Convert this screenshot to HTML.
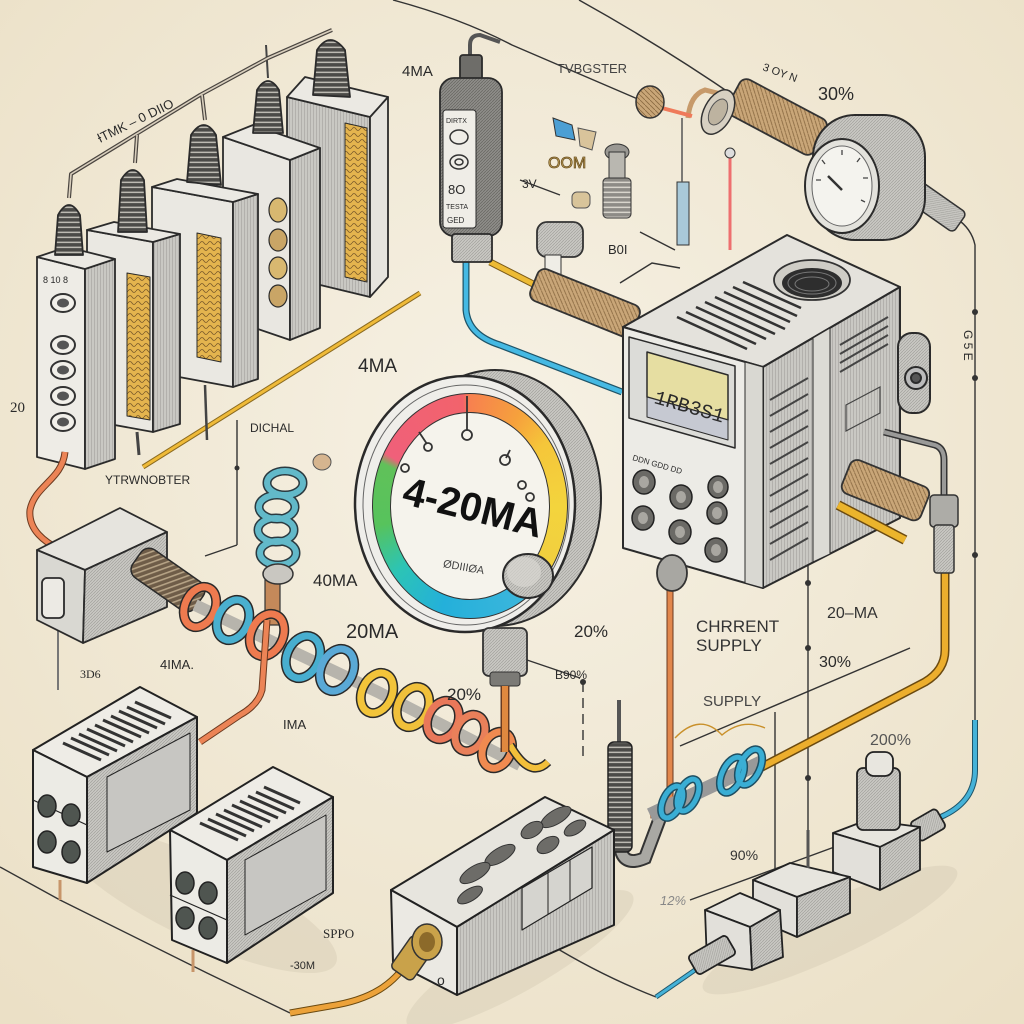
<!DOCTYPE html>
<html><head><meta charset="utf-8">
<style>
html,body{margin:0;padding:0;width:1024px;height:1024px;overflow:hidden;background:#f1e9d7;}
#wrap{position:relative;width:1024px;height:1024px;}
svg{position:absolute;left:0;top:0;}
text{font-family:"Liberation Sans",sans-serif;fill:#2a2a2a;}
.ring{position:absolute;left:372px;top:393px;width:196px;height:226px;border-radius:50%;box-sizing:border-box;border:1.5px solid #333;
background:conic-gradient(#f7814f 0deg,#f6a13c 28deg,#f5c63a 50deg,#f3d43d 90deg,#f2cf3e 128deg,#3bb6dc 150deg,#24b0da 195deg,#2cc4b5 228deg,#57c35c 258deg,#60c15a 296deg,#f0607a 302deg,#f2636c 356deg,#f7814f 360deg);}
.face{position:absolute;left:390px;top:412px;width:160px;height:188px;border-radius:50%;box-sizing:border-box;border:1.5px solid #333;background:#f5f3ec;}
</style></head><body><div id="wrap">
<svg width="1024" height="1024" viewBox="0 0 1024 1024">
<defs>
<radialGradient id="bg" cx="0.5" cy="0.42" r="0.75"><stop offset="0" stop-color="#f6f1e4"/><stop offset="1" stop-color="#ebe0c6"/></radialGradient>
<pattern id="h" patternUnits="userSpaceOnUse" width="3" height="3"><rect width="3" height="3" fill="#c8c7c2"/><path d="M0,3L3,0" stroke="#9c9b96" stroke-width=".6"/></pattern>
<pattern id="hd" patternUnits="userSpaceOnUse" width="3" height="3"><rect width="3" height="3" fill="#8e8d89"/><path d="M0,3L3,0" stroke="#666560" stroke-width=".7"/></pattern>
<pattern id="hv" patternUnits="userSpaceOnUse" width="3" height="3"><rect width="3" height="3" fill="#c9c8c3"/><path d="M1.5,0V3" stroke="#a2a19c" stroke-width=".6"/></pattern>
<pattern id="coil" patternUnits="userSpaceOnUse" width="6" height="5"><rect width="6" height="5" fill="#4b4a47"/><rect y="1.6" width="6" height="1.5" fill="#bdbab2"/></pattern>
<pattern id="coilL" patternUnits="userSpaceOnUse" width="6" height="5"><rect width="6" height="5" fill="#8d8b86"/><rect y="1.6" width="6" height="1.5" fill="#d8d5cc"/></pattern>
<pattern id="tan" patternUnits="userSpaceOnUse" width="5" height="5"><rect width="5" height="5" fill="#c9a678"/><path d="M0,0L5,5" stroke="#8a6a42" stroke-width=".8"/></pattern>
<pattern id="rib" patternUnits="userSpaceOnUse" width="5" height="5" patternTransform="rotate(35)"><rect width="5" height="5" fill="#6e5c48"/><rect x="2" width="1.6" height="5" fill="#b5a285"/></pattern>
<pattern id="ystr" patternUnits="userSpaceOnUse" width="8" height="6"><rect width="8" height="6" fill="#e4b44e"/><path d="M0,3Q2,0 4,3T8,3" stroke="#7a5a2a" stroke-width=".8" fill="none"/></pattern>
</defs>
<rect width="1024" height="1024" fill="url(#bg)"/>

<!-- soft floor shadows -->
<g fill="#d9cfb8" opacity=".5">
<ellipse cx="200" cy="900" rx="150" ry="40" transform="rotate(25 200 900)"/>
<ellipse cx="520" cy="960" rx="130" ry="30" transform="rotate(-30 520 960)"/>
<ellipse cx="830" cy="930" rx="140" ry="28" transform="rotate(-25 830 930)"/>
</g>

<!-- long thin lines -->
<g fill="none" stroke="#333" stroke-width="1.4">
<path d="M393,0 Q460,18 512,45 L640,100"/>
<path d="M579,0 Q660,45 740,100"/>
<path d="M915,205 Q968,212 975,245 L975,720"/>
<path d="M237,420 L237,545 M237,545 L205,556"/>
<path d="M680,746 L910,648"/>
<path d="M775,712 L775,870"/>
<path d="M808,528 L808,866"/>
<path d="M690,900 L848,842"/>
<path d="M527,660 L580,678"/>
<path d="M583,682 L583,760" stroke-dasharray="10 6"/>
<path d="M675,738 Q700,712 722,735 Q742,718 765,728" stroke="#c9902a"/>
<path d="M0,867 L60,900 L207,973 L290,1013"/>
<path d="M548,943 Q600,975 656,997"/>
<path d="M60,880 L60,900 M193,950 L193,972" stroke="#c7956a" stroke-width="3"/>
<path d="M58,627 L58,690" stroke="#777" stroke-width="2"/>
<path d="M264,240 L250,255 M620,283 L652,263 L680,268" />
<path d="M520,180 L560,195 M640,232 L675,250"/>
</g>
<g fill="#333"><circle cx="975" cy="312" r="3"/><circle cx="975" cy="378" r="3"/><circle cx="975" cy="555" r="3"/><circle cx="808" cy="583" r="3"/><circle cx="808" cy="648" r="3"/><circle cx="808" cy="778" r="3"/><circle cx="583" cy="682" r="3"/><circle cx="237" cy="468" r="2.5"/></g>

<!-- yellow diagonal -->
<path d="M143,467 L420,293" stroke="#8a6a20" stroke-width="5" fill="none"/>
<path d="M143,467 L420,293" stroke="#efba38" stroke-width="3" fill="none"/>

<!-- left blocks: 5 -->
<g stroke="#2b2b2b" stroke-width="1.8" stroke-linejoin="round">
<polygon points="287,97 370,117 370,297 287,277" fill="url(#hv)"/>
<polygon points="370,117 388,97 388,277 370,297" fill="#e6e4de"/>
<polygon points="287,97 370,117 388,97 305,77" fill="#ebe9e3"/>
<polygon points="345,123 367,128 367,282 345,277" fill="url(#ystr)" stroke-width="1"/>
<path d="M313,95 L317,50 Q330,30 345,50 L350,97 Z" fill="url(#coil)"/>
<!-- 4 -->
<polygon points="223,137 290,160 290,340 223,317" fill="#e9e7e1"/>
<polygon points="290,160 320,148 320,328 290,340" fill="url(#hv)"/>
<polygon points="223,137 290,160 320,148 253,125" fill="#ebe9e3"/>
<ellipse cx="278" cy="210" rx="9" ry="12" fill="#d8b870" stroke-width="1.2"/>
<ellipse cx="278" cy="240" rx="9" ry="11" fill="#c9a566" stroke-width="1.2"/>
<ellipse cx="278" cy="268" rx="9" ry="11" fill="#d8b870" stroke-width="1.2"/>
<ellipse cx="278" cy="296" rx="9" ry="11" fill="#c9a566" stroke-width="1.2"/>
<path d="M253,133 L257,90 Q268,72 279,90 L283,133 Z" fill="url(#coil)"/>
<path d="M268,78 L266,45" stroke="#444" stroke-width="2"/>
<!-- 3 -->
<polygon points="152,187 233,202 233,387 152,372" fill="#eae8e2"/>
<polygon points="233,202 258,194 258,379 233,387" fill="url(#hv)"/>
<polygon points="152,187 233,202 258,194 177,179" fill="#ebe9e3"/>
<polygon points="197,233 221,238 221,362 197,357" fill="url(#ystr)" stroke-width="1"/>
<path d="M187,182 L191,135 Q204,115 216,135 L221,185 Z" fill="url(#coil)"/>
<path d="M205,385 L207,440" stroke="#444" stroke-width="2.5"/>
<!-- 2 -->
<polygon points="87,230 153,242 153,432 87,420" fill="#eae8e2"/>
<polygon points="153,242 180,234 180,424 153,432" fill="url(#hv)"/>
<polygon points="87,230 153,242 180,234 114,222" fill="#ebe9e3"/>
<polygon points="127,273 150,277 150,420 127,416" fill="url(#ystr)" stroke-width="1"/>
<path d="M118,232 L121,180 Q133,160 144,180 L147,232 Z" fill="url(#coil)"/>
<path d="M137,432 L139,455" stroke="#444" stroke-width="3"/>
<!-- 1 -->
<polygon points="37,257 85,269 85,469 37,457" fill="#eeece6"/>
<polygon points="85,269 115,259 115,459 85,469" fill="url(#hv)"/>
<polygon points="37,257 85,269 115,259 67,247" fill="#ebe9e3"/>
<path d="M55,255 L58,215 Q69,195 80,215 L83,255 Z" fill="url(#coil)"/>
</g>
<g fill="#f2f0ea" stroke="#333" stroke-width="2">
<ellipse cx="63" cy="303" rx="12" ry="9"/><ellipse cx="63" cy="345" rx="12" ry="9"/><ellipse cx="63" cy="370" rx="12" ry="9"/><ellipse cx="63" cy="396" rx="12" ry="9"/><ellipse cx="63" cy="422" rx="12" ry="9"/>
</g>
<g fill="#555"><ellipse cx="63" cy="303" rx="6" ry="4.5"/><ellipse cx="63" cy="345" rx="6" ry="4.5"/><ellipse cx="63" cy="370" rx="6" ry="4.5"/><ellipse cx="63" cy="396" rx="6" ry="4.5"/><ellipse cx="63" cy="422" rx="6" ry="4.5"/></g>
<text x="43" y="283" font-size="9">8 10 8</text>
<!-- wires on coil tops -->
<g fill="none" stroke-linejoin="round">
<path d="M69,198 L71,174 L200,95 L268,58 L332,30 M135,163 L137,135 M205,120 L202,95" stroke="#4a4540" stroke-width="4"/>
<path d="M69,198 L71,174 L200,95 L268,58 L332,30 M135,163 L137,135 M205,120 L202,95" stroke="#d9cfbd" stroke-width="1.6"/>
</g>

<!-- orange left cable -->
<path d="M65,452 C62,480 35,485 30,510 C28,530 45,542 60,550" stroke="#6b3a20" stroke-width="7" fill="none"/>
<path d="M65,452 C62,480 35,485 30,510 C28,530 45,542 60,550" stroke="#ec8456" stroke-width="5" fill="none"/>

<!-- box C -->
<g stroke="#2b2b2b" stroke-width="1.8" stroke-linejoin="round">
<polygon points="37,550 120,508 167,532 85,570" fill="#e6e4de"/>
<polygon points="37,550 85,570 83,643 37,620" fill="#d9d8d2"/>
<polygon points="85,570 167,532 167,607 83,643" fill="url(#h)"/>
<rect x="42" y="578" width="22" height="40" rx="5" fill="#eceae4"/>
</g>
<rect x="-38" y="-17" width="76" height="34" rx="10" transform="translate(168,580) rotate(35)" fill="url(#rib)" stroke="#2b2b2b" stroke-width="1.5"/>

<!-- gray tube chain core -->
<path d="M195,605 L300,655 L380,693 L520,765" stroke="#b7b4ac" stroke-width="12" fill="none"/>
<!-- vertical chain stem -->
<rect x="265" y="580" width="15" height="45" fill="#c4895a" stroke="#333" stroke-width="1.2"/>
<g fill="none">
<g stroke="#2b3a40" stroke-width="9">
<ellipse cx="285" cy="483" rx="18" ry="12"/><ellipse cx="277" cy="507" rx="18" ry="12"/><ellipse cx="276" cy="530" rx="18" ry="12"/><ellipse cx="278" cy="553" rx="18" ry="12"/>
</g>
<g stroke="#62b9c9" stroke-width="6">
<ellipse cx="285" cy="483" rx="18" ry="12"/><ellipse cx="277" cy="507" rx="18" ry="12"/><ellipse cx="276" cy="530" rx="18" ry="12"/><ellipse cx="278" cy="553" rx="18" ry="12"/>
</g>
</g>
<ellipse cx="278" cy="574" rx="15" ry="10" fill="#c9c7c1" stroke="#333" stroke-width="1.5"/>
<ellipse cx="322" cy="462" rx="9" ry="8" fill="#d6b58f" stroke="#555"/>

<!-- horizontal coil chain -->
<g fill="none">
<g stroke="#2a2a2a" stroke-width="10">
<ellipse cx="200" cy="607" rx="15" ry="21" transform="rotate(25 200 607)"/>
<ellipse cx="233" cy="620" rx="15" ry="21" transform="rotate(25 233 620)"/>
<ellipse cx="267" cy="635" rx="16" ry="22" transform="rotate(25 267 635)"/>
<ellipse cx="303" cy="657" rx="16" ry="22" transform="rotate(25 303 657)"/>
<ellipse cx="337" cy="670" rx="16" ry="22" transform="rotate(25 337 670)"/>
<ellipse cx="377" cy="693" rx="15" ry="21" transform="rotate(25 377 693)"/>
<ellipse cx="413" cy="707" rx="15" ry="21" transform="rotate(25 413 707)"/>
<ellipse cx="443" cy="720" rx="15" ry="20" transform="rotate(25 443 720)"/>
<ellipse cx="470" cy="733" rx="14" ry="19" transform="rotate(25 470 733)"/>
<ellipse cx="497" cy="750" rx="14" ry="19" transform="rotate(25 497 750)"/>
</g>
<ellipse cx="200" cy="607" rx="15" ry="21" transform="rotate(25 200 607)" stroke="#ee7a4f" stroke-width="7"/>
<ellipse cx="233" cy="620" rx="15" ry="21" transform="rotate(25 233 620)" stroke="#4ab0cf" stroke-width="7"/>
<ellipse cx="267" cy="635" rx="16" ry="22" transform="rotate(25 267 635)" stroke="#ee7a4f" stroke-width="7"/>
<ellipse cx="303" cy="657" rx="16" ry="22" transform="rotate(25 303 657)" stroke="#48aecf" stroke-width="7"/>
<ellipse cx="337" cy="670" rx="16" ry="22" transform="rotate(25 337 670)" stroke="#5aa9d6" stroke-width="7"/>
<ellipse cx="377" cy="693" rx="15" ry="21" transform="rotate(25 377 693)" stroke="#f2c43a" stroke-width="7"/>
<ellipse cx="413" cy="707" rx="15" ry="21" transform="rotate(25 413 707)" stroke="#f0c03a" stroke-width="7"/>
<ellipse cx="443" cy="720" rx="15" ry="20" transform="rotate(25 443 720)" stroke="#e9785a" stroke-width="7"/>
<ellipse cx="470" cy="733" rx="14" ry="19" transform="rotate(25 470 733)" stroke="#e9805a" stroke-width="7"/>
<ellipse cx="497" cy="750" rx="14" ry="19" transform="rotate(25 497 750)" stroke="#f08a50" stroke-width="7"/>
<path d="M510,745 Q530,780 548,762" stroke="#2a2a2a" stroke-width="9"/>
<path d="M510,745 Q530,780 548,762" stroke="#f2bf3a" stroke-width="6"/>
</g>

<!-- orange cable from chain down to box A -->
<path d="M267,620 L262,690 Q258,705 240,715 L200,742" stroke="#6b3a20" stroke-width="7" fill="none"/>
<path d="M267,620 L262,690 Q258,705 240,715 L200,742" stroke="#ec8456" stroke-width="5" fill="none"/>

<!-- box A -->
<g stroke="#222" stroke-width="2" stroke-linejoin="round">
<polygon points="33,750 140,687 197,717 87,777" fill="#eeece6"/>
<polygon points="33,750 87,777 87,883 33,867" fill="#ecebe5"/>
<polygon points="87,777 197,717 197,813 87,883" fill="url(#h)"/>
<polygon points="107,777 190,733 190,810 107,852" fill="#c7c6c2" stroke-width="1"/>
<path d="M33,800 L87,825" stroke-width="1.2"/>
</g>
<g stroke="#333" stroke-width="3">
<path d="M63,743 l38,17 M71,738 l38,17 M79,734 l38,17 M87,729 l38,17 M95,725 l38,17 M103,720 l38,17 M111,716 l38,17 M119,711 l38,17 M127,707 l38,17 M135,702 l36,16"/>
</g>
<g fill="#4f5550" stroke="#222" stroke-width="1.5">
<ellipse cx="47" cy="806" rx="9" ry="11"/><ellipse cx="71" cy="815" rx="9" ry="11"/><ellipse cx="47" cy="842" rx="9" ry="11"/><ellipse cx="71" cy="852" rx="9" ry="11"/>
</g>
<!-- box B -->
<g stroke="#222" stroke-width="2" stroke-linejoin="round">
<polygon points="170,830 273,767 333,797 227,860" fill="#eeece6"/>
<polygon points="170,830 227,860 227,963 172,940" fill="#ecebe5"/>
<polygon points="227,860 333,797 333,893 227,963" fill="url(#h)"/>
<polygon points="245,860 326,815 326,890 245,935" fill="#c7c6c2" stroke-width="1"/>
<path d="M170,895 L227,920" stroke-width="1.2"/>
</g>
<g stroke="#333" stroke-width="3">
<path d="M200,823 l38,17 M208,819 l38,17 M216,814 l38,17 M224,810 l38,17 M232,805 l38,17 M240,801 l38,17 M248,796 l38,17 M256,792 l38,17 M264,787 l36,16"/>
</g>
<g fill="#4f5550" stroke="#222" stroke-width="1.5">
<ellipse cx="185" cy="883" rx="9" ry="11"/><ellipse cx="208" cy="893" rx="9" ry="11"/><ellipse cx="185" cy="918" rx="9" ry="11"/><ellipse cx="208" cy="928" rx="9" ry="11"/>
</g>

<!-- sensor cables -->
<path d="M466,262 L466,310 Q468,335 500,345 L622,392" stroke="#1f5468" stroke-width="7" fill="none"/>
<path d="M466,262 L466,310 Q468,335 500,345 L622,392" stroke="#45b9e3" stroke-width="4.5" fill="none"/>
<path d="M490,262 L545,290" stroke="#7a5a18" stroke-width="7" fill="none"/>
<path d="M490,262 L545,290" stroke="#edbb35" stroke-width="5" fill="none"/>
<!-- sensor -->
<path d="M470,60 L470,45 Q470,35 480,35 L500,42" stroke="#555" stroke-width="4" fill="none"/>
<g stroke="#2b2b2b" stroke-width="1.8">
<rect x="460" y="55" width="22" height="28" rx="3" fill="#6e6d69"/>
<rect x="440" y="78" width="62" height="158" rx="14" fill="url(#hd)"/>
<rect x="443" y="110" width="33" height="118" rx="3" fill="#efede7" stroke-width="1"/>
<rect x="452" y="234" width="40" height="28" rx="3" fill="url(#h)"/>
</g>
<g fill="none" stroke="#333" stroke-width="1.5"><ellipse cx="459" cy="137" rx="9" ry="7"/><ellipse cx="459" cy="162" rx="9" ry="7"/><ellipse cx="459" cy="162" rx="4" ry="3"/></g>
<text x="448" y="194" font-size="13">8O</text>
<text x="446" y="209" font-size="7">TESTA</text>
<text x="447" y="223" font-size="8">GED</text>
<text x="446" y="123" font-size="7">DIRTX</text>

<!-- top middle small parts -->
<polygon points="553,118 572,125 575,140 556,136" fill="#4c9fd4" stroke="#333"/>
<polygon points="578,128 596,132 592,150 580,146" fill="#d9c49b" stroke="#555"/>
<ellipse cx="617" cy="152" rx="12" ry="8" fill="#9a9893" stroke="#333"/>
<rect x="609" y="152" width="16" height="28" fill="#b9b7b0" stroke="#333"/>
<rect x="603" y="178" width="28" height="40" rx="4" fill="url(#coilL)" stroke="#333"/>
<rect x="572" y="192" width="18" height="16" rx="5" fill="#d8c49a" stroke="#555"/>
<rect x="677" y="182" width="12" height="63" fill="#a9c9d9" stroke="#333"/>
<path d="M730,158 L730,250" stroke="#ee6f6f" stroke-width="3"/>
<circle cx="730" cy="153" r="5" fill="#ddd" stroke="#333"/>
<path d="M682,118 L682,182" stroke="#555" stroke-width="1.5"/>
<rect x="537" y="222" width="46" height="35" rx="10" fill="url(#h)" stroke="#333" stroke-width="1.8"/>
<rect x="545" y="255" width="16" height="35" fill="#efede6" stroke="#333"/>
<rect x="-55" y="-17" width="110" height="34" rx="8" transform="translate(585,303) rotate(22)" fill="url(#tan)" stroke="#333" stroke-width="1.8"/>

<!-- right-top gauge & connectors -->
<path d="M688,118 Q690,95 705,90 L725,95" stroke="#c79a6a" stroke-width="5" fill="none"/>
<path d="M662,108 L692,116" stroke="#ef7a5a" stroke-width="4"/>
<ellipse cx="650" cy="102" rx="14" ry="16" fill="url(#tan)" stroke="#333" stroke-width="1.5"/>
<rect x="-49" y="-20" width="98" height="40" rx="8" transform="translate(777,117) rotate(28)" fill="url(#tan)" stroke="#333" stroke-width="1.8"/>
<ellipse cx="718" cy="112" rx="14" ry="24" transform="rotate(28 718 112)" fill="#d7d0c2" stroke="#333" stroke-width="1.5"/>
<ellipse cx="718" cy="112" rx="8" ry="14" transform="rotate(28 718 112)" fill="#bdb3a0" stroke="#555"/>
<rect x="-28" y="-12" width="56" height="24" rx="5" transform="translate(937,207) rotate(35)" fill="url(#h)" stroke="#333" stroke-width="1.5"/>
<rect x="813" y="115" width="112" height="125" rx="42" fill="url(#h)" stroke="#2b2b2b" stroke-width="2"/>
<ellipse cx="842" cy="186" rx="37" ry="47" fill="#e3e2dc" stroke="#2b2b2b" stroke-width="2"/>
<ellipse cx="842" cy="186" rx="30" ry="40" fill="#f4f3ee" stroke="#666"/>
<path d="M842,190 L828,176" stroke="#333" stroke-width="2.5"/>
<g stroke="#444" stroke-width="1.3"><path d="M842,150 v5 M860,158 l-3,4 M868,178 h-5 M865,202 l-4,-2 M822,160 l3,4 M816,180 h5"/></g>

<!-- main device -->
<g stroke="#2b2b2b" stroke-width="2" stroke-linejoin="round">
<polygon points="623,327 787,235 900,287 763,367" fill="#e4e2dc"/>
<polygon points="763,367 900,287 900,518 763,588" fill="url(#hv)"/>
<polygon points="623,327 763,367 763,588 623,548" fill="#ecebe6"/>
<polygon points="745,362 763,367 763,588 745,583" fill="#d9d8d2" stroke-width="1"/>
<polygon points="813,338 830,328 830,554 813,562" fill="#dcdbd5" stroke-width="1"/>
<polygon points="629,337 735,366 735,448 629,418" fill="#dcdcd8" stroke-width="1.5"/>
<polygon points="647,352 728,375 728,420 647,397" fill="#e6dea2" stroke-width="1.5"/>
<polygon points="647,397 728,420 728,440 647,417" fill="#c6c9d2" stroke-width="1"/>
<rect x="898" y="333" width="32" height="80" rx="14" fill="url(#h)"/>
<circle cx="916" cy="378" r="11" fill="#bbb"/>
<circle cx="916" cy="378" r="5" fill="#555"/>
</g>
<ellipse cx="812" cy="280" rx="38" ry="20" fill="#cfcdc6" stroke="#333" stroke-width="1.8"/>
<ellipse cx="812" cy="283" rx="30" ry="15" fill="#2e2e2e"/>
<g fill="none" stroke="#777" stroke-width="1"><ellipse cx="812" cy="283" rx="24" ry="11"/><ellipse cx="812" cy="284" rx="17" ry="7"/></g>
<g stroke="#333" stroke-width="2.6">
<path d="M677,317 l70,32 M686,312 l70,32 M696,307 l70,32 M705,302 l70,32 M715,297 l70,32 M724,292 l66,30 M733,287 l64,29 M743,282 l58,26"/>
</g>
<g stroke="#444" stroke-width="2">
<path d="M770,400 l38,-22 M770,416 l38,-22 M770,432 l38,-22 M770,448 l38,-22 M770,464 l38,-22 M770,480 l38,-22 M770,496 l38,-22 M770,512 l38,-22 M770,528 l38,-22 M770,544 l38,-22 M770,560 l38,-22"/>
<path d="M840,345 l48,-28 M840,354 l48,-28 M840,363 l48,-28 M840,372 l48,-28"/>
</g>
<polygon points="846,405 880,387 880,413 846,431" fill="none" stroke="#444" stroke-width="1.2"/>
<text x="658" y="412" font-size="20" transform="rotate(16 688 390)" style="font-family:'Liberation Mono',monospace">1RB3S1</text>
<text x="632" y="460" font-size="8" transform="rotate(16 632 460)">DDN   GDD   DD</text>
<g fill="#6b6a66" stroke="#222" stroke-width="1.5">
<ellipse cx="644" cy="482" rx="11" ry="12"/><ellipse cx="681" cy="497" rx="11" ry="12"/><ellipse cx="718" cy="487" rx="10" ry="11"/>
<ellipse cx="643" cy="518" rx="11" ry="12"/><ellipse cx="680" cy="532" rx="11" ry="12"/><ellipse cx="717" cy="513" rx="10" ry="11"/><ellipse cx="716" cy="550" rx="11" ry="12"/>
</g>
<g fill="#a9a7a1"><ellipse cx="644" cy="482" rx="5" ry="6"/><ellipse cx="681" cy="497" rx="5" ry="6"/><ellipse cx="718" cy="487" rx="5" ry="6"/><ellipse cx="643" cy="518" rx="5" ry="6"/><ellipse cx="680" cy="532" rx="5" ry="6"/><ellipse cx="717" cy="513" rx="5" ry="6"/><ellipse cx="716" cy="550" rx="5" ry="6"/></g>

<!-- right side connectors -->
<path d="M884,432 L935,445 Q944,448 944,460 L944,498" stroke="#333" stroke-width="7" fill="none"/>
<path d="M884,432 L935,445 Q944,448 944,460 L944,498" stroke="#9a9a98" stroke-width="4" fill="none"/>
<path d="M838,505 L905,540" stroke="#6b4a10" stroke-width="10"/>
<path d="M838,505 L905,540" stroke="#ebb42c" stroke-width="7"/>
<rect x="-42" y="-18" width="85" height="36" rx="8" transform="translate(885,490) rotate(22)" fill="url(#tan)" stroke="#333" stroke-width="1.8"/>
<path d="M945,570 L945,650 Q945,670 925,682 L760,768" stroke="#6b4a10" stroke-width="9" fill="none"/>
<path d="M945,570 L945,650 Q945,670 925,682 L760,768" stroke="#ecae2d" stroke-width="6" fill="none"/>
<rect x="930" y="495" width="28" height="32" rx="4" fill="#adaca7" stroke="#333" stroke-width="1.5"/>
<rect x="934" y="525" width="20" height="48" rx="3" fill="url(#h)" stroke="#333" stroke-width="1.5"/>

<!-- orange vertical -->
<path d="M670,590 L670,800 Q668,812 650,815" stroke="#6b3a20" stroke-width="7" fill="none"/>
<path d="M670,590 L670,800 Q668,812 650,815" stroke="#e2874c" stroke-width="5" fill="none"/>
<ellipse cx="672" cy="573" rx="15" ry="18" fill="#a8a7a2" stroke="#333" stroke-width="1.8"/>

<!-- dark coil vertical + elbow -->
<path d="M619,700 L619,745" stroke="#555" stroke-width="4"/>
<path d="M620,845 Q622,868 645,858 L660,818" stroke="#333" stroke-width="14" fill="none"/>
<path d="M620,845 Q622,868 645,858 L660,818" stroke="#a9a8a3" stroke-width="10" fill="none"/>
<rect x="608" y="742" width="24" height="110" rx="6" fill="url(#coil)" stroke="#222" stroke-width="1.5"/>

<!-- blue coil segment -->
<path d="M650,815 L762,762" stroke="#999" stroke-width="14"/>
<g fill="none">
<g stroke="#1f4f62" stroke-width="8">
<ellipse cx="672" cy="802" rx="9" ry="17" transform="rotate(25 672 802)"/><ellipse cx="688" cy="795" rx="9" ry="17" transform="rotate(25 688 795)"/>
<ellipse cx="732" cy="775" rx="10" ry="19" transform="rotate(25 732 775)"/><ellipse cx="750" cy="767" rx="10" ry="19" transform="rotate(25 750 767)"/>
</g>
<g stroke="#3aaed4" stroke-width="5">
<ellipse cx="672" cy="802" rx="9" ry="17" transform="rotate(25 672 802)"/><ellipse cx="688" cy="795" rx="9" ry="17" transform="rotate(25 688 795)"/>
<ellipse cx="732" cy="775" rx="10" ry="19" transform="rotate(25 732 775)"/><ellipse cx="750" cy="767" rx="10" ry="19" transform="rotate(25 750 767)"/>
</g>
</g>

<!-- bottom middle box -->
<g stroke="#222" stroke-width="2" stroke-linejoin="round">
<polygon points="391,890 545,797 614,830 457,927" fill="#e7e5de"/>
<polygon points="391,890 457,927 457,995 393,962" fill="#ebe9e3"/>
<polygon points="457,927 614,830 614,925 457,995" fill="url(#hv)"/>
<polygon points="522,888 592,847 592,888 522,930" fill="#d5d4cf" stroke-width="1.2"/>
<path d="M548,873 L548,914 M570,860 L570,901" stroke-width="1"/>
</g>
<g fill="#6d6c68" stroke="#333" stroke-width="1">
<ellipse cx="556" cy="817" rx="17" ry="7" transform="rotate(-31 556 817)"/>
<ellipse cx="532" cy="830" rx="12" ry="7" transform="rotate(-31 532 830)"/>
<ellipse cx="575" cy="828" rx="12" ry="6" transform="rotate(-31 575 828)"/>
<ellipse cx="548" cy="845" rx="12" ry="7" transform="rotate(-31 548 845)"/>
<ellipse cx="500" cy="855" rx="17" ry="7" transform="rotate(-31 500 855)"/>
<ellipse cx="475" cy="873" rx="17" ry="7" transform="rotate(-31 475 873)"/>
<ellipse cx="470" cy="895" rx="14" ry="6" transform="rotate(-31 470 895)"/>
</g>
<path d="M412,955 C395,985 370,1000 330,1006 L290,1013" stroke="#6b4a10" stroke-width="7" fill="none"/>
<path d="M412,955 C395,985 370,1000 330,1006 L290,1013" stroke="#eca23a" stroke-width="5" fill="none"/>
<rect x="-20" y="-13" width="40" height="26" rx="5" transform="translate(412,958) rotate(-55)" fill="#c9a24a" stroke="#333" stroke-width="1.5"/>
<ellipse cx="427" cy="942" rx="15" ry="18" fill="#c9a24a" stroke="#333" stroke-width="1.5"/>
<ellipse cx="427" cy="942" rx="8" ry="10" fill="#8c6a2a"/>
<text x="437" y="985" font-size="14">o</text>

<!-- bottom-right assembly -->
<path d="M656,997 L695,970" stroke="#1f5468" stroke-width="5"/>
<path d="M656,997 L695,970" stroke="#45b2d8" stroke-width="3"/>
<path d="M975,720 L975,770 Q975,800 945,815 L930,822" stroke="#1f5468" stroke-width="6" fill="none"/>
<path d="M975,720 L975,770 Q975,800 945,815 L930,822" stroke="#45b2d8" stroke-width="4" fill="none"/>
<g stroke="#222" stroke-width="1.8" stroke-linejoin="round">
<rect x="-15" y="-11" width="30" height="22" rx="4" transform="translate(928,825) rotate(-30)" fill="url(#h)"/>
<polygon points="833,833 867,820 920,827 880,847" fill="#e7e5de"/>
<polygon points="833,833 880,847 880,890 833,872" fill="#e2e0da"/>
<polygon points="880,847 920,827 920,870 880,890" fill="url(#h)"/>
<rect x="857" y="768" width="43" height="62" rx="6" fill="url(#h)"/>
<rect x="866" y="752" width="27" height="24" rx="8" fill="#e8e6df"/>
<polygon points="753,880 790,863 850,877 797,897" fill="#e7e5de"/>
<polygon points="753,880 797,897 797,937 753,918" fill="#e2e0da"/>
<polygon points="797,897 850,877 850,913 797,937" fill="url(#h)"/>
<polygon points="705,910 740,893 780,910 750,927" fill="#e7e5de"/>
<polygon points="705,910 750,927 752,970 707,963" fill="#e2e0da"/>
<polygon points="750,927 780,910 783,957 752,970" fill="url(#h)"/>
<rect x="-22" y="-11" width="44" height="22" rx="4" transform="translate(712,955) rotate(-30)" fill="url(#h)"/>
</g>
<path d="M808,830 L808,868" stroke="#555" stroke-width="3"/>

<!-- gauge body -->
<path d="M465,376 L495,370 L495,626 L465,632 Z" fill="url(#h)"/>
<ellipse cx="495" cy="498" rx="106" ry="128" fill="url(#h)" stroke="#2b2b2b" stroke-width="2"/>
<ellipse cx="465" cy="504" rx="110" ry="128" fill="#efeeea" stroke="#2a2a2a" stroke-width="2.5"/>
<ellipse cx="466" cy="505" rx="103" ry="120" fill="none" stroke="#666" stroke-width="1"/>
<rect x="483" y="628" width="44" height="48" rx="6" fill="url(#h)" stroke="#333" stroke-width="1.8"/>
<rect x="490" y="672" width="30" height="14" rx="3" fill="#7b7a76" stroke="#333"/>
<path d="M505,686 L505,752" stroke="#6b3a20" stroke-width="9"/>
<path d="M505,686 L505,752" stroke="#e0883f" stroke-width="6"/>
</svg>

<div class="ring"></div>
<div class="face"></div>

<svg width="1024" height="1024" viewBox="0 0 1024 1024">
<g stroke="#333" stroke-width="1.8" fill="none">
<path d="M467,396 L467,430"/>
<circle cx="467" cy="435" r="5"/>
<path d="M419,432 l8,12"/><circle cx="428" cy="447" r="4"/>
<circle cx="405" cy="468" r="4"/>
<path d="M510,450 l-4,8"/><circle cx="505" cy="460" r="5"/>
<circle cx="522" cy="485" r="4"/><circle cx="530" cy="497" r="4"/>
</g>
<text x="400" y="520" font-size="40" font-weight="bold" transform="rotate(14 468 515)" style="fill:#111">4-20MA</text>
<text x="443" y="570" font-size="11" transform="rotate(10 460 566)" style="fill:#444">ØDIIIØA</text>
<ellipse cx="528" cy="576" rx="25" ry="22" fill="url(#h)" stroke="#2b2b2b" stroke-width="2"/>
<ellipse cx="524" cy="572" rx="17" ry="15" fill="#d8d7d2" opacity=".7"/>

<!-- labels -->
<text x="402" y="76" font-size="15">4MA</text>
<text x="358" y="372" font-size="19">4MA</text>
<text x="100" y="143" font-size="13" transform="rotate(-26 100 143)">ƗTMK – 0 DIIO</text>
<text x="10" y="412" font-size="15" style="font-family:'Liberation Serif',serif">20</text>
<text x="250" y="432" font-size="12">DICHAL</text>
<text x="105" y="484" font-size="12">YTRWNOBTER</text>
<text x="557" y="73" font-size="13" style="fill:#444">TVBGSTER</text>
<text x="762" y="70" font-size="11" transform="rotate(20 762 70)">3 OY N</text>
<text x="818" y="100" font-size="18">30%</text>
<text x="548" y="168" font-size="16" style="fill:#c8a860;stroke:#6a5020;stroke-width:.8">OOM</text>
<text x="522" y="188" font-size="12">3V</text>
<text x="608" y="254" font-size="13">B0I</text>
<text x="964" y="330" font-size="12" transform="rotate(90 964 330)">G 5 E</text>
<text x="313" y="586" font-size="17">40MA</text>
<text x="346" y="638" font-size="20">20MA</text>
<text x="160" y="669" font-size="13">4IMA.</text>
<text x="283" y="729" font-size="13">IMA</text>
<text x="80" y="678" font-size="12" style="font-family:'Liberation Serif',serif">3D6</text>
<text x="447" y="700" font-size="17">20%</text>
<text x="574" y="637" font-size="17">20%</text>
<text x="555" y="679" font-size="12">B90%</text>
<text x="696" y="632" font-size="17" style="fill:#333">CHRRENT</text>
<text x="696" y="651" font-size="17" style="fill:#333">SUPPLY</text>
<text x="827" y="618" font-size="16" style="fill:#333">20–MA</text>
<text x="819" y="667" font-size="16">30%</text>
<text x="703" y="706" font-size="15" style="fill:#444">SUPPLY</text>
<text x="870" y="745" font-size="16" style="fill:#555">200%</text>
<text x="730" y="860" font-size="14" style="fill:#333">90%</text>
<text x="660" y="905" font-size="13" font-style="italic" style="fill:#888">12%</text>
<text x="323" y="938" font-size="13" style="font-family:'Liberation Serif',serif">SPPO</text>
<text x="290" y="969" font-size="11">-30M</text>
</svg>
</div></body></html>
